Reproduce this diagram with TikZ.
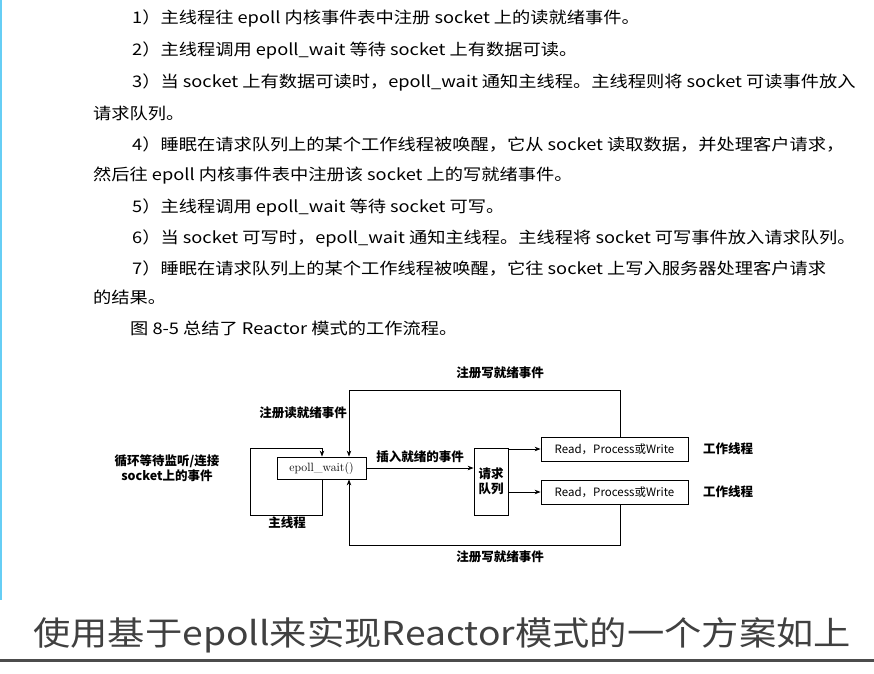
\documentclass[tikz,border=0pt]{standalone}
\usepackage{fontspec}
\usepackage{graphicx}
\newfontfamily\cjk{Noto Sans CJK SC}
\usetikzlibrary{arrows.meta}
\newcommand{\pl}[1]{\scalebox{1.14}[1]{#1}}
\begin{document}
\begin{tikzpicture}[x=1pt,y=-1pt,
  para/.style={anchor=west,inner sep=0pt,font=\cjk\fontsize{16}{16}\selectfont},
  lab/.style={inner sep=0pt,font=\cjk\bfseries\fontsize{12.5}{15}\selectfont,align=center},
  box/.style={draw,thick,inner sep=0pt},
  rbox/.style={box,minimum width=147,minimum height=24,font=\cjk\fontsize{11.5}{14}\selectfont},
  ln/.style={thick},
  ar/.style={thick,-{Stealth[length=6pt]}}]
\useasboundingbox (0,0) rectangle (874,673);
\draw[cyan!60,line width=1.5pt] (1,0) -- (1,600);
\node[para] (p1) at (132,18) {\pl{1）主线程往 epoll 内核事件表中注册 socket 上的读就绪事件。}};
\node[para] (p2) at (132,50) {\pl{2）主线程调用 epoll\_wait 等待 socket 上有数据可读。}};
\node[para] (p3) at (132,82) {\pl{3）当 socket 上有数据可读时，epoll\_wait 通知主线程。主线程则将 socket 可读事件放入}};
\node[para] (p3b) at (93,113) {\pl{请求队列。}};
\node[para] (p4) at (132,145) {\pl{4）睡眠在请求队列上的某个工作线程被唤醒，它从 socket 读取数据，并处理客户请求，}};
\node[para] (p4b) at (93,176) {\pl{然后往 epoll 内核事件表中注册该 socket 上的写就绪事件。}};
\node[para] (p5) at (132,207) {\pl{5）主线程调用 epoll\_wait 等待 socket 可写。}};
\node[para] (p6) at (132,238) {\pl{6）当 socket 可写时，epoll\_wait 通知主线程。主线程将 socket 可写事件放入请求队列。}};
\node[para] (p7) at (132,268) {\pl{7）睡眠在请求队列上的某个工作线程被唤醒，它往 socket 上写入服务器处理客户请求}};
\node[para] (p7b) at (93,297) {\pl{的结果。}};
\node[para] (p8) at (130,328) {\pl{图 8-5 总结了 Reactor 模式的工作流程。}};

\node[box,minimum width=89,minimum height=22,font=\fontsize{12}{14}\selectfont] (ep) at (321.5,468) {epoll\_wait()};
\node[box,minimum width=34,minimum height=67] (q) at (491,481.5) {};
\node[lab] (ql) at (q) {请求\\队列};
\node[rbox] (r1) at (614.5,449) {Read，Process或Write};
\node[rbox] (r2) at (614.5,492) {Read，Process或Write};
\node[lab] (w1) at (728,449) {工作线程};
\node[lab] (w2) at (728,492) {工作线程};
\node[lab] (loop) at (167,468) {循环等待监听/连接\\socket上的事件};
\node[lab] (reg) at (303,413) {注册读就绪事件};
\node[lab] (main) at (287,523) {主线程};
\node[lab] (top) at (500,373) {注册写就绪事件};
\node[lab] (bot) at (500,557) {注册写就绪事件};
\node[lab,anchor=south] (ins) at (420,463) {插入就绪的事件};

\coordinate (a1) at (322,448); \coordinate (a0) at (250,448);
\coordinate (b0) at (250,515); \coordinate (b1) at (322,515);
\draw[ar] (a0) -- (a1) -- (a1 |- ep.north);
\draw[ln] (a0) -- (b0) -- (b1) -- (b1 |- ep.south);
\coordinate (t0) at (349,390); \coordinate (t1) at (620,390);
\draw[ar] (t1 |- r1.north) -- (t1) -- (t0) -- (t0 |- ep.north);
\coordinate (u0) at (349,545); \coordinate (u1) at (620,545);
\draw[ar] (u1 |- r2.south) -- (u1) -- (u0) -- (u0 |- ep.south);
\draw[ar] (ep.east) -- (ep.east -| q.west);
\draw[ar] (q.east |- r1) -- (r1.west);
\draw[ar] (q.east |- r2) -- (r2.west);

\node[anchor=west,inner sep=0pt,font=\cjk\fontsize{33}{36}\selectfont,text=black!75] (cap) at (33,635) {\scalebox{1.13}[1]{使用基于epoll来实现Reactor模式的一个方案如上}};
\draw[line width=3pt,black!70] (0,660) -- (874,660);
\end{tikzpicture}
\end{document}
